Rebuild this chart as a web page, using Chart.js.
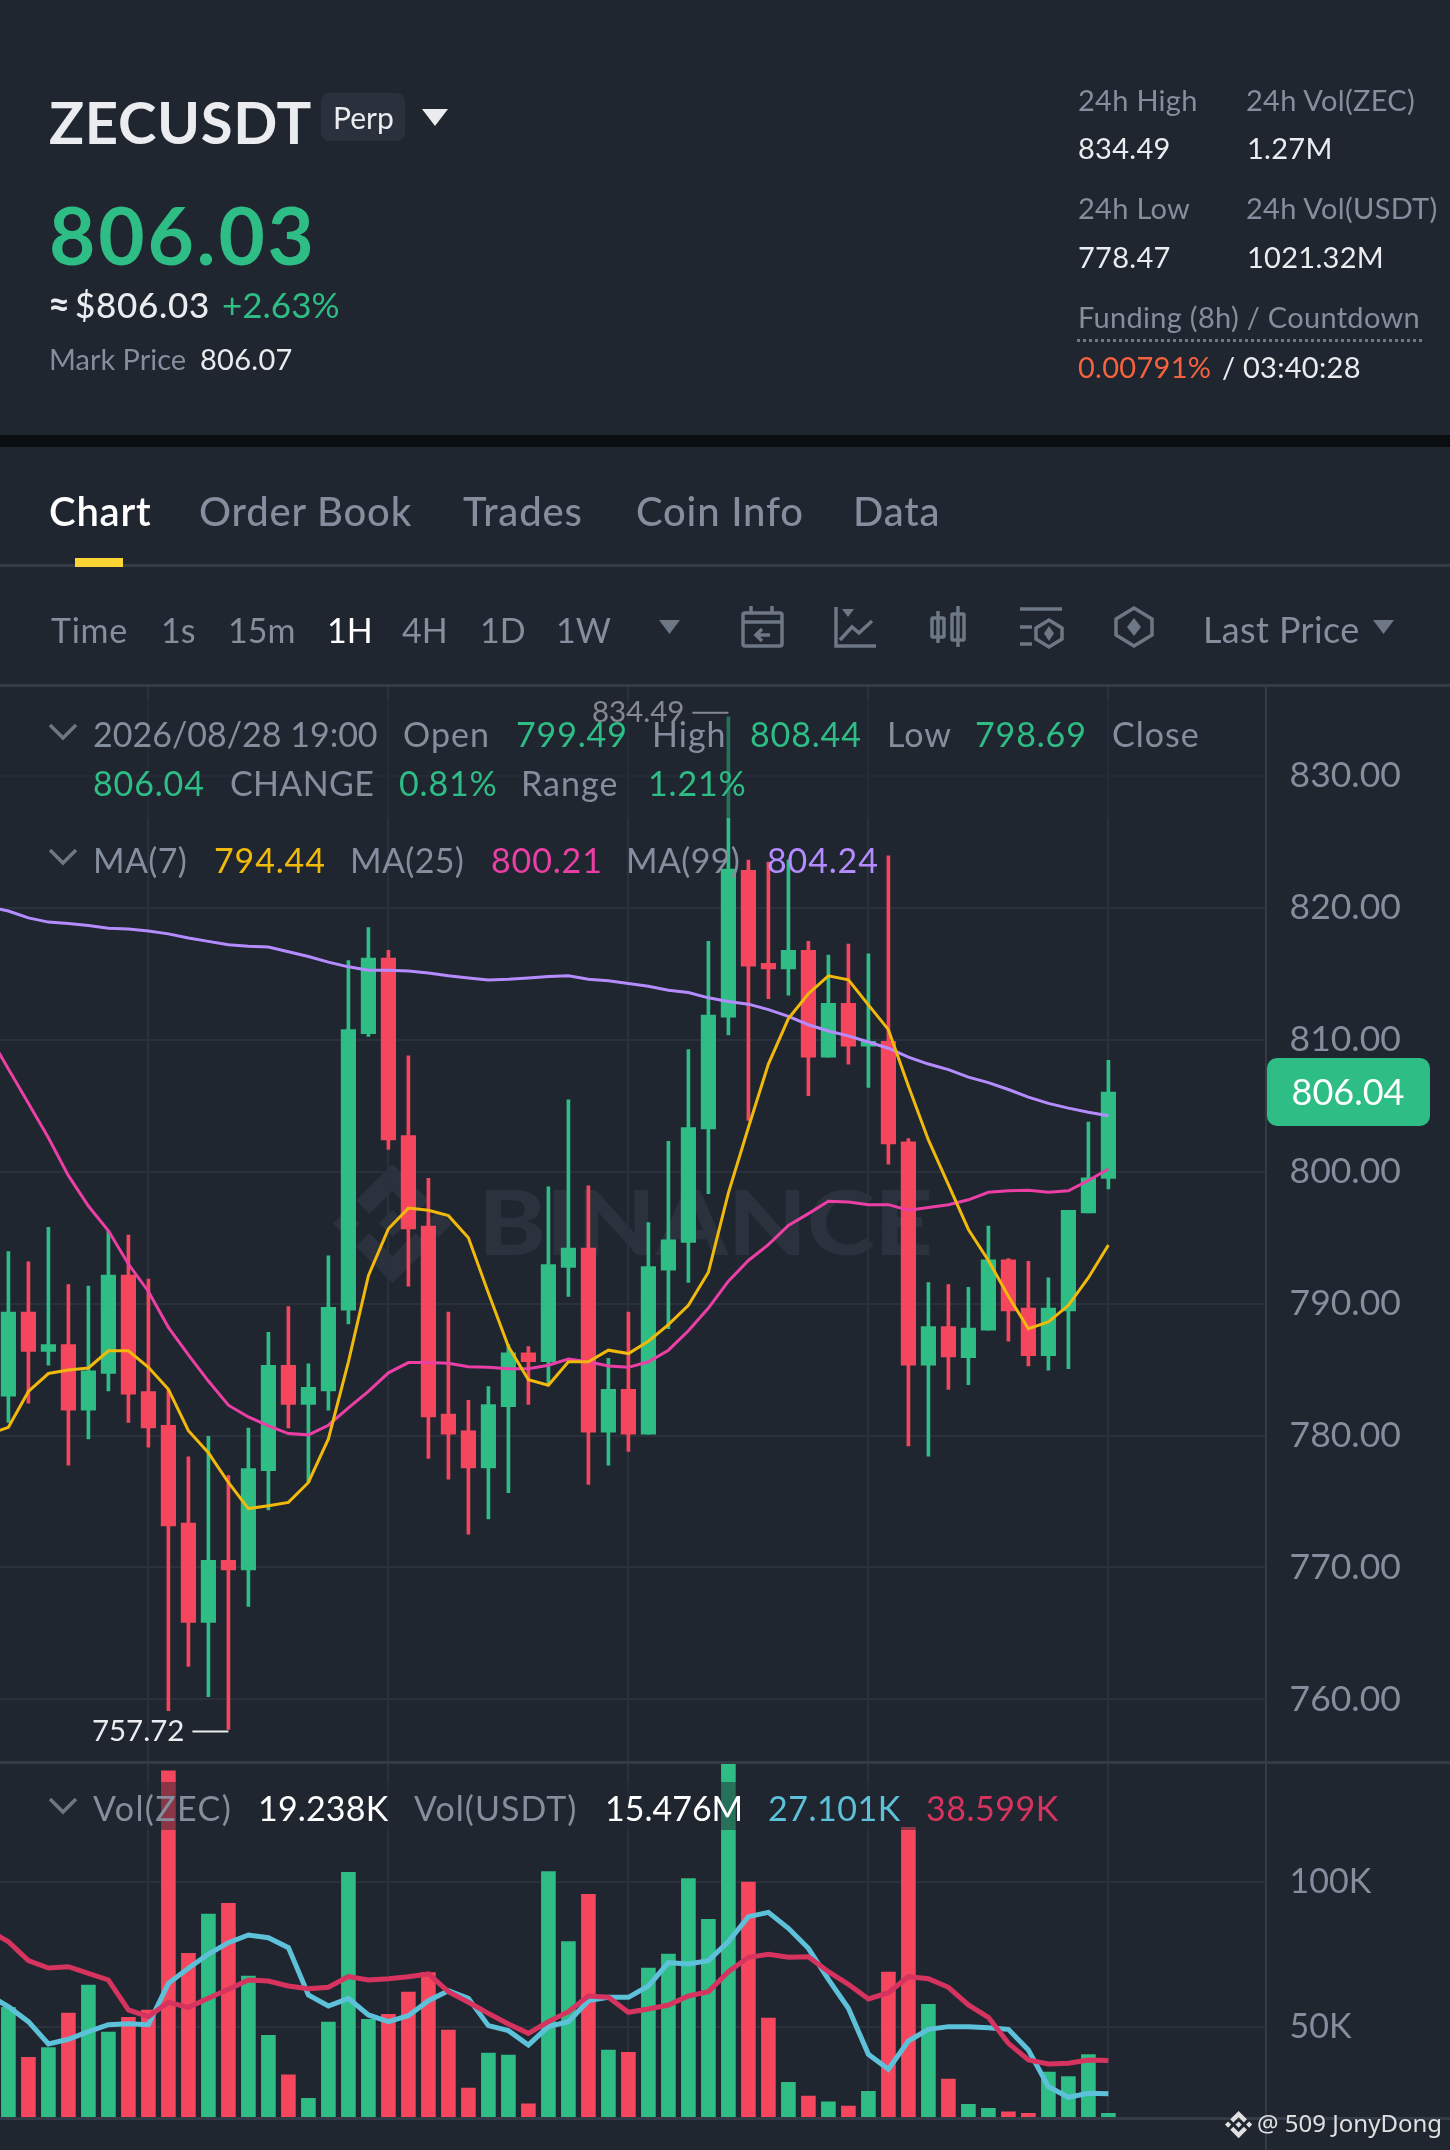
<!DOCTYPE html>
<html>
<head>
<meta charset="utf-8">
<title>ZECUSDT Perp</title>
<script src="https://cdn.jsdelivr.net/npm/chart.js@4"></script>
<style>
html, body { margin: 0; padding: 0; background: #1f2630; }
#page { position: relative; width: 1450px; height: 2150px; overflow: hidden; background: #1f2630; font-family: Lato, "Noto Sans", sans-serif; }
#page canvas { position: absolute; left: 0; }
#page svg { position: absolute; left: 0; top: 0; }
.rule { position: absolute; background: #333b47; }
.strip { position: absolute; background: rgba(31, 38, 48, 0.5); }
.txt { position: absolute; white-space: nowrap; line-height: 0; }
</style>
</head>
<body>
<div id="page">
  <svg width="1450" height="2150" style="z-index:0">
    <path transform="translate(333,1164) scale(0.94)" fill="#2b323e" d="M38.73 53.2l24.59-24.58 24.6 24.6 14.3-14.31L63.32 0 24.42 38.9zM0 63.31l14.3-14.31 14.31 14.31-14.31 14.3zM38.73 73.41l24.59 24.59 24.6-24.6 14.31 14.29h-.01L63.32 126.62 24.41 87.72zM98 63.32l14.3-14.31 14.31 14.3-14.31 14.31zM77.83 63.3L63.32 48.78 52.59 59.51l-1.24 1.23-2.54 2.54 14.51 14.5 14.51-14.47z"/>
    <text x="478" y="1255" font-family="Lato" font-weight="900" font-size="90" fill="#2b323e" textLength="455" lengthAdjust="spacingAndGlyphs">BINANCE</text>
  </svg>
  <canvas id="priceChart" width="1450" height="1076" style="top:686px;z-index:1"></canvas>
  <canvas id="volChart" width="1450" height="355" style="top:1762px;z-index:1"></canvas>
  <div class="strip" style="left:0;top:700px;width:1265px;height:118px;z-index:2"></div>
  <div class="strip" style="left:0;top:1782px;width:1065px;height:48px;z-index:2"></div>

  <div style="position:absolute;left:0;top:435px;width:1450px;height:12px;background:#0b0e11"></div>
  <div class="rule" style="left:0;top:564px;width:1450px;height:3px"></div>
  <div class="rule" style="left:0;top:684px;width:1450px;height:3px;z-index:2"></div>
  <div class="rule" style="left:0;top:1761px;width:1450px;height:3px;z-index:2"></div>
  <div class="rule" style="left:0;top:2117px;width:1450px;height:3px;z-index:2"></div>
  <div class="rule" style="left:1265px;top:686px;width:2px;height:1464px;z-index:2"></div>
  <div style="position:absolute;left:75px;top:558px;width:48px;height:9px;background:#fcd535"></div>
  <div style="position:absolute;left:321px;top:93px;width:84px;height:48px;background:#2a313d;border-radius:8px"></div>
  <div style="position:absolute;left:1077px;top:339px;width:345px;border-top:3px dotted #6e7784"></div>

  <svg width="1450" height="2150" style="z-index:3" fill="none" stroke="#6e7784" stroke-width="3.5">
    <polygon points="422,109 448,109 435,126" fill="#eaecef" stroke="none"/>
    <polygon points="659,620 680,620 669.5,634" fill="#6e7784" stroke="none"/>
    <polygon points="1373,620 1394,620 1383.5,634" fill="#6e7784" stroke="none"/>
    <!-- toolbar icons -->
    <rect x="743" y="613" width="39" height="33" rx="2"/>
    <path d="M751 606V613M772 606V613M743 622H782M756 635H770M762 629L756 635L762 641"/>
    <path d="M836 607V646H876M840 640L852 627L859 633L872 621"/>
    <polygon points="842,609 854,609 848,617" fill="#6e7784" stroke="none"/>
    <rect x="932" y="618" width="12" height="19" rx="1"/>
    <rect x="952" y="614" width="12" height="26" rx="1"/>
    <path d="M938 611V643M958 606V647"/>
    <path d="M1020 609H1062M1020 627H1032M1020 644H1032"/>
    <polygon points="1049,620 1062,628 1062,639 1049,647 1036,639 1036,628"/>
    <polygon points="1049,626 1054,633.5 1049,641 1044,633.5" fill="#6e7784" stroke="none"/>
    <polygon points="1134,608 1152,619 1152,635 1134,646 1116,635 1116,619"/>
    <polygon points="1134,618 1141,627 1134,636 1127,627" fill="#6e7784" stroke="none"/>
    <!-- legend chevrons -->
    <path d="M50 725L63 738L76 725M50 850L63 863L76 850M50 1799L63 1812L76 1799"/>
    <path transform="translate(1225,2111) scale(0.215)" stroke="none" fill="#e0e0e0" d="M38.73 53.2l24.59-24.58 24.6 24.6 14.3-14.31L63.32 0 24.42 38.9zM0 63.31l14.3-14.31 14.31 14.31-14.31 14.3zM38.73 73.41l24.59 24.59 24.6-24.6 14.31 14.29h-.01L63.32 126.62 24.41 87.72zM98 63.32l14.3-14.31 14.31 14.3-14.31 14.31zM77.83 63.3L63.32 48.78 52.59 59.51l-1.24 1.23-2.54 2.54 14.51 14.5 14.51-14.47z"/>
  </svg>
</div>

<script>
const candleOpen = [782.98,789.35,786.37,786.89,781.93,784.70,792.17,783.34,780.78,773.36,765.84,770.54,769.81,777.33,785.33,782.35,783.39,789.51,810.46,816.2,802.73,795.88,781.62,780.36,777.54,782.19,786.27,785.59,792.75,794.21,780.26,783.50,780.10,792.54,794.63,803.25,811.71,822.84,815.79,815.37,816.78,808.68,812.76,809.52,809.88,802.26,785.33,788.25,785.90,787.99,793.32,789.66,786.06,789.45,796.87,799.49];
const candleClose = [789.35,786.37,786.89,781.93,784.91,792.17,783.13,780.57,773.15,765.84,770.54,769.81,777.49,785.33,782.35,783.66,789.72,810.77,816.2,802.41,795.67,781.41,780.10,777.54,782.35,786.27,785.59,792.96,794.21,780.26,783.50,780.10,792.80,794.84,803.35,811.87,822.95,815.58,815.37,816.78,808.68,812.76,809.52,809.88,802.10,785.33,788.25,785.95,788.15,793.32,789.45,786.06,789.66,797.08,799.53,806.04];
const candleHigh = [793.95,793.16,795.78,791.44,791.33,795.52,795.20,791.86,783.50,778.38,779.94,776.97,780.57,787.83,789.77,785.43,793.63,816.0,818.5,816.78,808.79,799.49,789.35,782.66,783.71,786.89,786.74,798.86,805.44,798.92,785.85,789.35,796.14,802.31,809.26,817.46,834.49,823.63,823.47,823.63,817.46,816.42,817.25,816.52,823.94,802.52,791.60,791.44,791.23,795.88,793.42,793.21,791.96,797.08,803.77,808.44];
const candleLow = [780.99,782.45,785.33,777.75,779.74,783.39,780.99,779.11,759.15,762.49,760.20,757.72,767.04,774.36,780.57,776.44,781.93,788.46,810.25,801.68,791.33,778.27,776.70,772.52,773.67,775.66,782.35,783.92,790.55,776.29,777.75,778.80,780.10,788.10,791.60,798.34,810.36,803.88,813.12,813.38,805.76,808.68,808.16,806.38,800.58,779.21,778.43,783.50,783.86,787.99,787.15,785.27,784.96,785.07,796.87,798.69];

// moving averages start one candle left of the visible area
const ma7 = [780.10,780.62,783.34,784.70,784.96,785.12,786.42,786.42,785.17,783.50,780.36,778.69,776.44,774.46,774.67,774.93,776.44,779.74,785.59,792.12,795.67,797.24,797.08,796.67,794.99,790.81,786.74,784.23,783.81,785.59,785.59,786.47,786.21,787.15,788.41,789.87,792.38,798.39,803.35,808.16,811.61,813.49,814.85,814.54,812.65,810.77,806.49,802.41,799.02,795.62,793.27,790.55,788.10,788.62,789.87,791.96,794.44];
const ma25 = [810.41,807.79,805.18,802.57,799.70,797.40,795.52,793.0,790.92,788.20,786.11,784.13,782.30,781.41,780.73,780.15,780.05,780.78,782.09,783.34,784.75,785.53,785.53,785.48,785.22,785.17,785.07,785.07,785.33,785.80,785.59,785.27,785.17,785.59,786.47,787.94,789.66,791.70,793.27,794.47,795.93,796.82,797.76,797.71,797.50,797.50,797.08,797.29,797.50,797.87,798.44,798.55,798.60,798.44,798.55,799.33,800.21];
const ma99 = [820.07,819.76,819.24,818.92,818.82,818.66,818.45,818.40,818.24,818.03,817.72,817.46,817.20,817.09,817.04,816.68,816.31,815.89,815.53,815.27,815.27,815.21,815.06,814.85,814.69,814.54,814.59,814.69,814.80,814.85,814.59,814.48,814.27,814.06,813.75,813.59,813.18,812.91,812.70,812.29,811.77,811.14,810.67,810.30,809.83,809.36,808.68,808.16,807.74,807.17,806.75,806.23,805.65,805.18,804.82,804.50,804.24];

const volumes = [56.88,39.68,43.0,54.93,64.56,48.39,53.44,55.96,138.30,75.46,88.99,92.66,67.66,47.24,33.60,25.57,51.83,103.32,52.75,54.47,62.15,68.80,49.08,29.12,41.17,40.48,23.62,103.55,79.47,95.75,42.20,41.39,70.41,75.23,101.14,87.15,142.2,100,53.21,31.07,26.37,24.31,22.93,27.98,69.03,118.80,57.91,32.22,23.51,22.13,20.87,20.41,34.63,33.02,40.59,20.41];
const volMaBlue = [61.12,57.11,51.95,44.26,45.87,48.51,50.91,51.26,50.91,65.13,70.29,75.23,79.12,81.76,80.85,77.41,61.12,57.34,59.97,54.24,51.95,54.01,59.17,62.61,59.97,50.57,48.85,43.92,50.23,51.95,59.17,60.32,60.32,64.22,72.24,71.79,72.93,79.47,88.07,89.56,84.06,77.18,66.51,56.53,40.71,35.55,45.29,49.31,50.23,50.23,49.88,49.31,42.20,29.58,25.91,27.29,27.10];
const volMaRed = [83.48,79.47,72.93,70.41,70.87,68.57,66.28,55.96,53.67,58.60,56.88,59.97,63.07,66.28,65.94,64.22,63.30,63.76,67.43,66.28,66.74,67.43,68.35,62.27,58.60,54.81,51.14,47.93,51.95,55.39,60.78,60.32,55.16,56.30,57.68,60.78,62.27,69.15,74.08,75.11,74.08,74.31,69.15,64.79,59.74,61.92,67.43,66.74,63.76,57.68,53.44,44.49,38.76,37.38,37.61,38.76,38.60];

const gridCandles = [7, 19, 31, 43, 55];
const lastPrice = 806.04;

const GREEN = '#2ebd85';
const RED = '#f6465d';
const GRID = '#2a313c';
const FONT = 'Lato';

let candleColors = candleOpen.map((o, i) => candleClose[i] >= o ? GREEN : RED);

function barSet(values, thickness, order) {
    return {
        type: 'bar',
        data: values.map((v, i) => ({ x: i, y: v })),
        backgroundColor: candleColors,
        barThickness: thickness,
        grouped: false,
        order: order
    };
}

function lineSet(values, color, width, order) {
    return {
        type: 'line',
        data: values.map((v, i) => ({ x: i - 1, y: v })),
        borderColor: color,
        borderWidth: width,
        pointRadius: 0,
        tension: 0,
        fill: false,
        order: order
    };
}

function xAxis() {
    return {
        type: 'linear',
        min: -0.42,
        max: 62.86,
        offset: false,
        border: { display: false },
        grid: { color: GRID, lineWidth: 2, offset: false, drawTicks: false },
        ticks: { display: false },
        afterBuildTicks: function(scale) {
            scale.ticks = gridCandles.map(v => ({ value: v }));
        },
        afterFit: function(scale) {
            scale.height = 0;
        }
    };
}

// keep the plot area full height, the axis labels may overhang
function fitRightAxis(scale) {
    scale.width = 184.4;
    scale.paddingTop = 0;
    scale.paddingBottom = 0;
}

// high, low and last price markers read through the price scale
const priceMarks = {
    id: 'priceMarks',
    afterDatasetsDraw: function(chart) {
        let ctx = chart.ctx;
        let x = chart.scales.x;
        let y = chart.scales.y;
        let hi = candleHigh.indexOf(Math.max(...candleHigh));
        let lo = candleLow.indexOf(Math.min(...candleLow));

        ctx.save();
        ctx.fillStyle = '#eaecef';
        ctx.strokeStyle = '#eaecef';
        ctx.lineWidth = 2;
        ctx.font = '29.5px ' + FONT;
        ctx.textAlign = 'right';
        ctx.textBaseline = 'middle';

        [[hi, candleHigh[hi], -4], [lo, candleLow[lo], 2]].forEach(function(m) {
            let px = x.getPixelForValue(m[0]);
            let py = y.getPixelForValue(m[1]) + m[2];
            ctx.beginPath();
            ctx.moveTo(px - 36, py);
            ctx.lineTo(px, py);
            ctx.stroke();
            ctx.fillText(m[1].toFixed(2), px - 44, py);
        });

        let tagY = y.getPixelForValue(lastPrice);
        ctx.fillStyle = GREEN;
        ctx.beginPath();
        ctx.roundRect(1267, tagY - 34, 163, 68, 10);
        ctx.fill();
        ctx.fillStyle = '#ffffff';
        ctx.font = '36px ' + FONT;
        ctx.textAlign = 'center';
        ctx.fillText(lastPrice.toFixed(2), 1348, tagY + 1);
        ctx.restore();
    }
};

Chart.defaults.font.family = FONT;

new Chart(document.getElementById('priceChart'), {
    type: 'bar',
    data: {
        datasets: [
            lineSet(ma7, '#f0b90b', 3, 1),
            lineSet(ma25, '#ec3fa6', 3, 2),
            lineSet(ma99, '#b58cff', 3, 3),
            barSet(candleOpen.map((o, i) => [o, candleClose[i]]), 14.5, 4),
            barSet(candleLow.map((l, i) => [l, candleHigh[i]]), 3, 5)
        ]
    },
    options: {
        responsive: false,
        animation: false,
        devicePixelRatio: 1,
        layout: { padding: 0 },
        plugins: { legend: { display: false }, tooltip: { enabled: false } },
        scales: {
            x: xAxis(),
            y: {
                position: 'right',
                min: 755.25,
                max: 836.82,
                border: { display: false },
                grid: { color: GRID, lineWidth: 2, drawTicks: false },
                ticks: {
                    stepSize: 10,
                    includeBounds: false,
                    padding: 24,
                    color: '#848e9c',
                    font: { size: 35.5 },
                    callback: v => v.toFixed(2)
                },
                afterFit: fitRightAxis
            }
        }
    },
    plugins: [priceMarks]
});

new Chart(document.getElementById('volChart'), {
    type: 'bar',
    data: {
        datasets: [
            lineSet(volMaRed, '#d6335f', 5, 1),
            lineSet(volMaBlue, '#5dc1d9', 5, 2),
            barSet(volumes, 14, 3)
        ]
    },
    options: {
        responsive: false,
        animation: false,
        devicePixelRatio: 1,
        layout: { padding: 0 },
        plugins: { legend: { display: false }, tooltip: { enabled: false } },
        scales: {
            x: xAxis(),
            y: {
                position: 'right',
                min: 19.13,
                max: 141.3,
                border: { display: false },
                grid: { color: GRID, lineWidth: 2, drawTicks: false },
                ticks: {
                    stepSize: 50,
                    includeBounds: false,
                    padding: 24,
                    color: '#848e9c',
                    font: { size: 34 },
                    callback: v => v + 'K'
                },
                afterFit: fitRightAxis
            }
        }
    }
});

// page text: left edge, baseline, size, colour, weight, letter spacing in em
function put(text, x, base, size, color, weight, spacing) {
    let d = document.createElement('div');
    d.className = 'txt';
    d.textContent = text;
    d.style.left = x + 'px';
    d.style.top = (base - 0.387 * size) + 'px';
    d.style.fontSize = size + 'px';
    d.style.color = color;
    d.style.fontWeight = weight || 400;
    d.style.letterSpacing = (spacing || 0) + 'em';
    d.style.zIndex = 3;
    document.getElementById('page').appendChild(d);
    return d;
}

const GREY = '#848e9c';
const WHITE = '#eaecef';

put('ZECUSDT', 49, 144, 58, WHITE, 700, 0.012);
put('Perp', 333, 129, 30, WHITE);
put('806.03', 49, 265, 80, GREEN, 700, 0.035);
put('≈', 48, 318, 38, WHITE, 700);
put('$806.03', 75, 318, 35, WHITE, 500, 0.02);
put('+2.63%', 222, 318, 35, GREEN, 400);
put('Mark Price', 49, 370, 29, GREY);
put('806.07', 200, 370, 29, WHITE, 400, 0.01);

put('24h High', 1078, 111, 29, GREY, 400, 0.01);
put('24h Vol(ZEC)', 1246, 111, 29, GREY, 400, 0.01);
put('834.49', 1078, 159, 29, WHITE, 400, 0.01);
put('1.27M', 1247, 159, 29, WHITE, 400, 0.01);
put('24h Low', 1078, 219, 29, GREY, 400, 0.01);
put('24h Vol(USDT)', 1246, 219, 29, GREY, 400, 0.01);
put('778.47', 1078, 268, 29, WHITE, 400, 0.01);
put('1021.32M', 1247, 268, 29, WHITE, 400, 0.01);
put('Funding (8h) / Countdown', 1078, 328, 29, GREY, 400, 0.01);
put('0.00791%', 1078, 378, 29, '#f6613f', 400, 0.01);
put('/', 1222, 378, 29, WHITE);
put('03:40:28', 1243, 378, 29, WHITE, 400, 0.01);

put('Chart', 49, 526, 40, '#ffffff', 600, 0.02);
put('Order Book', 199, 526, 40, GREY, 500, 0.02);
put('Trades', 463, 526, 40, GREY, 500, 0.02);
put('Coin Info', 636, 526, 40, GREY, 500, 0.02);
put('Data', 853, 526, 40, GREY, 500, 0.02);

put('Time', 51, 643, 34, GREY, 400, 0.02);
put('1s', 161, 643, 34, GREY);
put('15m', 228, 643, 34, GREY);
put('1H', 327, 643, 34, '#ffffff');
put('4H', 402, 643, 34, GREY);
put('1D', 480, 643, 34, GREY);
put('1W', 556, 643, 34, GREY);
put('Last Price', 1203, 643, 36, GREY, 400, 0.01);

put('2026/08/28 19:00', 93, 747, 34, GREY);
put('Open', 403, 747, 34, GREY, 400, 0.03);
put('799.49', 516, 747, 34, GREEN, 400, 0.025);
put('High', 652, 747, 34, GREY, 400, 0.03);
put('808.44', 750, 747, 34, GREEN, 400, 0.025);
put('Low', 887, 747, 34, GREY, 400, 0.03);
put('798.69', 975, 747, 34, GREEN, 400, 0.025);
put('Close', 1112, 747, 34, GREY, 400, 0.03);
put('806.04', 93, 796, 34, GREEN, 400, 0.025);
put('CHANGE', 230, 796, 34, GREY, 400, 0.01);
put('0.81%', 399, 796, 34, GREEN, 400, 0.025);
put('Range', 521, 796, 34, GREY, 400, 0.03);
put('1.21%', 648, 796, 34, GREEN, 400, 0.025);
put('MA(7)', 93, 873, 34, GREY, 400, 0.01);
put('794.44', 214, 873, 34, '#f0b90b', 400, 0.025);
put('MA(25)', 350, 873, 34, GREY, 400, 0.01);
put('800.21', 491, 873, 34, '#ec3fa6', 400, 0.025);
put('MA(99)', 626, 873, 34, GREY, 400, 0.01);
put('804.24', 767, 873, 34, '#b58cff', 400, 0.025);

put('Vol(ZEC)', 93, 1821, 34, GREY, 400, 0.04);
put('19.238K', 258, 1821, 34, '#ffffff', 400, 0.005);
put('Vol(USDT)', 414, 1821, 34, GREY, 400, 0.03);
put('15.476M', 605, 1821, 34, '#ffffff');
put('27.101K', 768, 1821, 34, '#5dc1d9', 400, 0.015);
put('38.599K', 926, 1821, 34, '#d6335f', 400, 0.015);

let credit = put('@ 509 JonyDong', 1257, 2132, 24, '#e0e0e0');
credit.style.fontFamily = '"Noto Sans"';
</script>
</body>
</html>
